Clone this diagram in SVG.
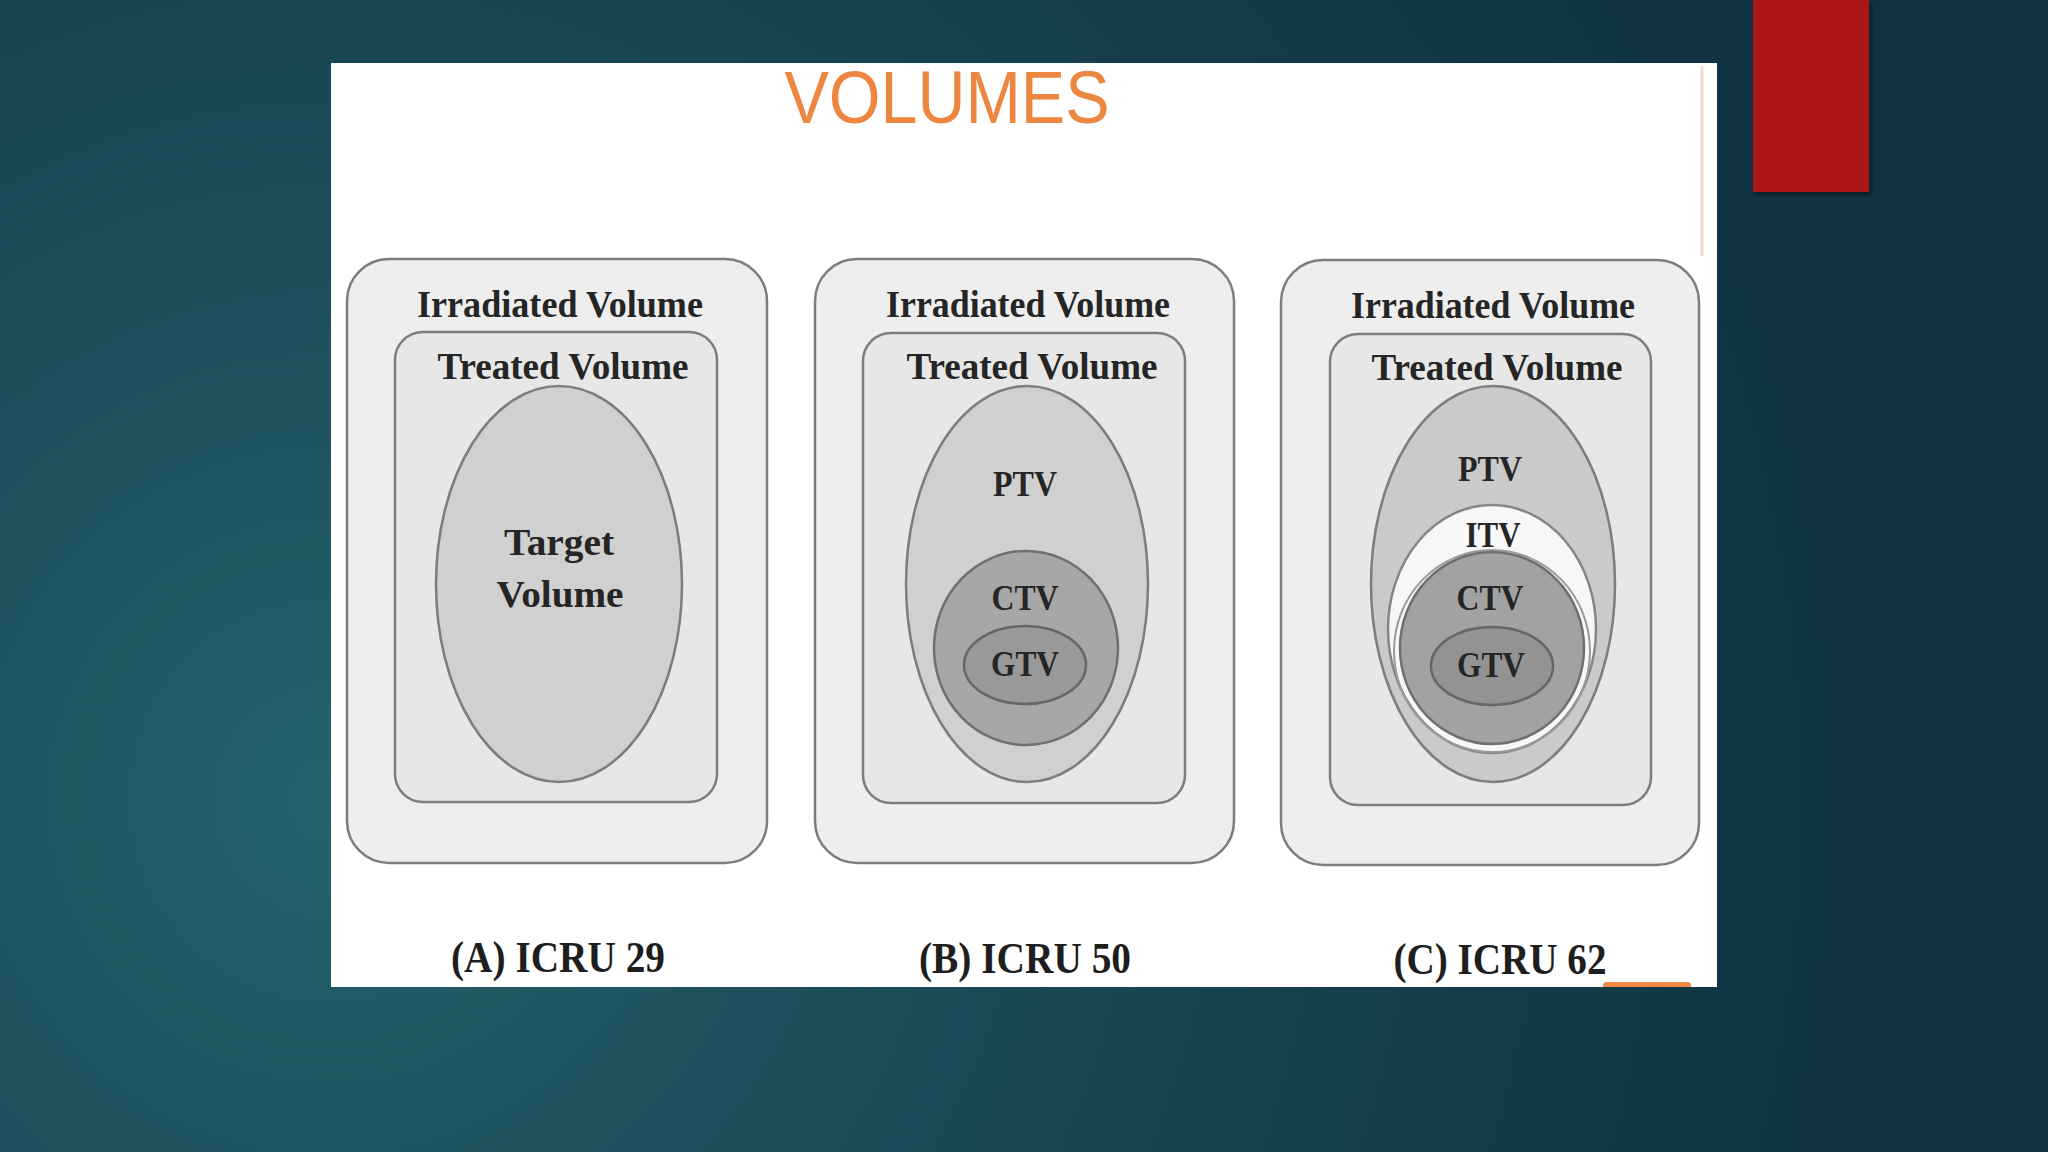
<svg xmlns="http://www.w3.org/2000/svg" width="2048" height="1152" viewBox="0 0 2048 1152">
  <defs>
    <radialGradient id="bg" cx="330" cy="800" r="1550" gradientUnits="userSpaceOnUse">
      <stop offset="0" stop-color="#25626b"/>
      <stop offset="0.35" stop-color="#1c4e5a"/>
      <stop offset="0.7" stop-color="#143e4c"/>
      <stop offset="1" stop-color="#0f3343"/>
    </radialGradient>
    <filter id="shadow" x="-20%" y="-20%" width="140%" height="140%">
      <feDropShadow dx="2" dy="3" stdDeviation="2" flood-color="#000" flood-opacity="0.45"/>
    </filter>
  </defs>
  <style>
    .outer { fill: #eeeeee; stroke: #7d7d7d; stroke-width: 2.5; }
    .treated { fill: #e7e7e7; stroke: #7d7d7d; stroke-width: 2.5; }
    .ptv { fill: #d0d0d0; stroke: #7d7d7d; stroke-width: 2.5; }
    .itv { fill: #f7f7f7; stroke: #858585; stroke-width: 2.5; }
    .ctv { fill: #a7a7a7; stroke: #6f6f6f; stroke-width: 2.5; }
    .gtv { fill: #999999; stroke: #666666; stroke-width: 2.5; }
    .lbl { font-family: "Liberation Serif", "Times New Roman", serif; font-weight: bold; fill: #252525; text-anchor: middle; }
    .big { font-size: 38px; }
    .mid { font-size: 36px; }
    .cap { font-size: 44px; fill: #1e1e1e; }
    .title { font-family: "Liberation Sans", Arial, sans-serif; font-size: 74px; fill: #ec8640; text-anchor: middle; }
  </style>

  <rect x="0" y="0" width="2048" height="1152" fill="url(#bg)"/>
  <rect x="1753" y="0" width="116" height="192" fill="#ad1515" filter="url(#shadow)"/>

  <g id="slide-panel">
    <rect x="331" y="63" width="1386" height="924" fill="#ffffff"/>
    <line x1="1702" y1="66" x2="1702" y2="256" stroke="#f6d6c8" stroke-width="3"/>
    <path d="M1603 987 V985 Q1603 982 1607 982 H1687 Q1691 982 1691 985 V987 Z" fill="#ee8a45"/>
    <text class="title" x="947" y="123" textLength="325" lengthAdjust="spacingAndGlyphs">VOLUMES</text>
  </g>

  <g id="connectors"/>

  <!-- Panel A: ICRU 29 -->
  <g id="icru29">
    <g id="a-irradiated">
      <rect class="outer" x="347" y="259" width="420" height="604" rx="42" ry="42"/>
      <text class="lbl big" x="560" y="317" textLength="286" lengthAdjust="spacingAndGlyphs">Irradiated Volume</text>
    </g>
    <g id="a-treated">
      <rect class="treated" x="395" y="332" width="322" height="470" rx="28" ry="28"/>
      <text class="lbl big" x="563" y="379" textLength="251" lengthAdjust="spacingAndGlyphs">Treated Volume</text>
    </g>
    <g id="a-target">
      <ellipse class="ptv" cx="559" cy="584" rx="123" ry="198"/>
      <text class="lbl big" x="559" y="555" textLength="110" lengthAdjust="spacingAndGlyphs">Target</text>
      <text class="lbl big" x="560" y="607" textLength="127" lengthAdjust="spacingAndGlyphs">Volume</text>
    </g>
    <text id="a-caption" class="lbl cap" x="558" y="972" textLength="214" lengthAdjust="spacingAndGlyphs">(A) ICRU 29</text>
  </g>

  <!-- Panel B: ICRU 50 -->
  <g id="icru50">
    <g id="b-irradiated">
      <rect class="outer" x="815" y="259" width="419" height="604" rx="42" ry="42"/>
      <text class="lbl big" x="1028" y="317" textLength="284" lengthAdjust="spacingAndGlyphs">Irradiated Volume</text>
    </g>
    <g id="b-treated">
      <rect class="treated" x="863" y="333" width="322" height="470" rx="28" ry="28"/>
      <text class="lbl big" x="1032" y="379" textLength="251" lengthAdjust="spacingAndGlyphs">Treated Volume</text>
    </g>
    <g id="b-ptv">
      <ellipse class="ptv" cx="1027" cy="584" rx="121" ry="198"/>
      <text class="lbl mid" x="1025" y="496" textLength="64" lengthAdjust="spacingAndGlyphs">PTV</text>
    </g>
    <g id="b-ctv">
      <ellipse class="ctv" cx="1026" cy="648" rx="92" ry="97"/>
      <text class="lbl mid" x="1025" y="610" textLength="67" lengthAdjust="spacingAndGlyphs">CTV</text>
    </g>
    <g id="b-gtv">
      <ellipse class="gtv" cx="1025" cy="665" rx="61" ry="39"/>
      <text class="lbl mid" x="1025" y="676" textLength="68" lengthAdjust="spacingAndGlyphs">GTV</text>
    </g>
    <text id="b-caption" class="lbl cap" x="1025" y="973" textLength="212" lengthAdjust="spacingAndGlyphs">(B) ICRU 50</text>
  </g>

  <!-- Panel C: ICRU 62 -->
  <g id="icru62">
    <g id="c-irradiated">
      <rect class="outer" x="1281" y="260" width="418" height="605" rx="42" ry="42"/>
      <text class="lbl big" x="1493" y="318" textLength="284" lengthAdjust="spacingAndGlyphs">Irradiated Volume</text>
    </g>
    <g id="c-treated">
      <rect class="treated" x="1330" y="334" width="321" height="471" rx="28" ry="28"/>
      <text class="lbl big" x="1497" y="380" textLength="251" lengthAdjust="spacingAndGlyphs">Treated Volume</text>
    </g>
    <g id="c-ptv">
      <ellipse class="ptv" cx="1493" cy="584" rx="122" ry="198" style="fill:#cacaca"/>
      <text class="lbl mid" x="1490" y="481" textLength="64" lengthAdjust="spacingAndGlyphs">PTV</text>
    </g>
    <g id="c-itv">
      <ellipse class="itv" cx="1492" cy="629" rx="104" ry="124"/>
      <ellipse cx="1492" cy="651" rx="98" ry="101" fill="none" stroke="#9a9a9a" stroke-width="2"/>
      <text class="lbl mid" x="1493" y="547" textLength="55" lengthAdjust="spacingAndGlyphs">ITV</text>
    </g>
    <g id="c-ctv">
      <ellipse class="ctv" cx="1492" cy="648" rx="92" ry="96" style="fill:#a2a2a2"/>
      <text class="lbl mid" x="1490" y="610" textLength="67" lengthAdjust="spacingAndGlyphs">CTV</text>
    </g>
    <g id="c-gtv">
      <ellipse class="gtv" cx="1492" cy="666" rx="61" ry="39" style="fill:#939393"/>
      <text class="lbl mid" x="1491" y="677" textLength="68" lengthAdjust="spacingAndGlyphs">GTV</text>
    </g>
    <text id="c-caption" class="lbl cap" x="1500" y="974" textLength="213" lengthAdjust="spacingAndGlyphs">(C) ICRU 62</text>
  </g>
</svg>
